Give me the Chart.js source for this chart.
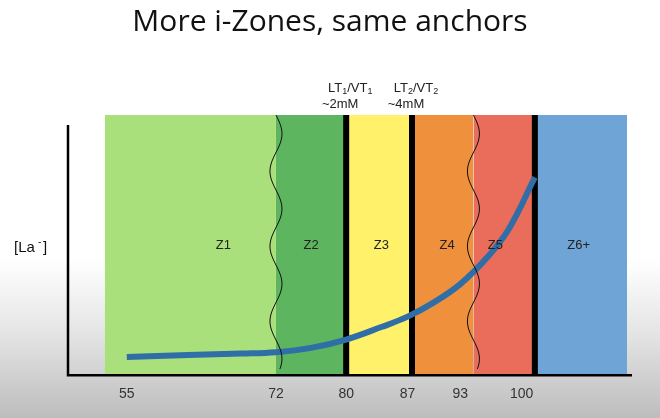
<!DOCTYPE html>
<html><head><meta charset="utf-8">
<script src="https://cdn.jsdelivr.net/npm/chart.js@4/dist/chart.umd.min.js"></script>
<style>
html,body{margin:0;padding:0;}
body{width:660px;height:418px;background:linear-gradient(to bottom,#fff 0%,#fff 62%,#e4e4e4 80%,#bdbdbd 100%);overflow:hidden;}
#wrap{position:relative;width:660px;height:418px;}
</style></head>
<body><div id="wrap"><canvas id="c" width="660" height="418"></canvas></div>
<script>
const title = "More i-Zones, same anchors";
const tickValues = [55, 72, 80, 87, 93, 100];
const zoneEdges = [52.5, 72, 80, 87.5, 94.5, 101.5, 112];
const zoneLabels = ["Z1", "Z2", "Z3", "Z4", "Z5", "Z6+"];
const zoneLabelAt = [66, 76, 84, 91.5, 97, 106.5];
const zoneColors = ["#a9e07b", "#5db560", "#fff16a", "#ef903c", "#ea6c5a", "#6fa4d6"];
const curveX = [55, 62, 68, 72, 76, 80, 84, 87, 90, 93, 96, 98.5, 101.5];
const curveY = [7, 7.8, 8.3, 8.8, 10.5, 13.7, 18.5, 22.5, 28, 35, 45, 56, 76];
const thickLines = [80, 87.5, 101.5];
const wavyLines = [72, 94.5];

const datasets = [];
datasets.push({type:'line', data: curveX.map((x,i)=>({x, y: curveY[i]})), borderColor:'#2f6ea6', borderWidth:6, pointRadius:0, tension:0.4, fill:false, order:0});
zoneLabels.forEach((z,i)=>{
  datasets.push({type:'line', data:[{x:zoneEdges[i],y:100},{x:zoneEdges[i+1],y:100}], borderWidth:0, pointRadius:0, backgroundColor:zoneColors[i], fill:'origin', order:10});
});
thickLines.forEach(v=>{
  datasets.push({type:'line', data:[{x:v,y:0},{x:v,y:100}], borderColor:'#000', borderWidth:6, pointRadius:0, fill:false, order:1});
});

const deco = {
  id:'deco',
  afterDatasetsDraw(chart){
    const ctx = chart.ctx, xs = chart.scales.x, ys = chart.scales.y;
    ctx.save();
    ctx.strokeStyle='#111'; ctx.lineWidth=1;
    wavyLines.forEach(v=>{
      const px = xs.getPixelForValue(v);
      ctx.beginPath();
      for(let py=ys.top; py<=ys.bottom-5; py+=2){
        const dx = 6*Math.sin((py-ys.top)/75*2*Math.PI);
        if(py===ys.top) ctx.moveTo(px+dx,py); else ctx.lineTo(px+dx,py);
      }
      ctx.stroke();
    });
    ctx.fillStyle='#222'; ctx.font='13px "Liberation Sans", Arial'; ctx.textAlign='center'; ctx.textBaseline='middle';
    zoneLabels.forEach((z,i)=>{
      ctx.fillText(z, xs.getPixelForValue(zoneLabelAt[i]), ys.getPixelForValue(50));
    });
    const thr = [[80,'1','~2mM'],[87.5,'2','~4mM']];
    thr.forEach(([v,s,m])=>{
      const px = xs.getPixelForValue(v);
      ctx.font='13px "Liberation Sans", Arial'; ctx.textAlign='left';
      const a='LT', b='/VT';
      const wA=ctx.measureText(a).width, wB=ctx.measureText(b).width;
      ctx.font='9px "Liberation Sans", Arial'; const wS=ctx.measureText(s).width;
      const total=wA+wS+wB+wS; let x0=px-total/2+4; const y=ys.top-27;
      ctx.font='13px "Liberation Sans", Arial'; ctx.fillText(a,x0,y); x0+=wA;
      ctx.font='9px "Liberation Sans", Arial'; ctx.fillText(s,x0,y+4); x0+=wS;
      ctx.font='13px "Liberation Sans", Arial'; ctx.fillText(b,x0,y); x0+=wB;
      ctx.font='9px "Liberation Sans", Arial'; ctx.fillText(s,x0,y+4);
      ctx.font='13px "Liberation Sans", Arial'; ctx.textAlign='center';
      ctx.fillText(m, px-6, ys.top-11);
    });
    ctx.font='30px "Open Sans", "Liberation Sans", Arial'; ctx.textAlign='center'; ctx.fillStyle='#111';
    ctx.fillText(title, 330, 22);
    ctx.font='15px "Liberation Sans", Arial'; ctx.textAlign='left';
    ctx.fillText('[La', 14, 248);
    ctx.font='10px "Liberation Sans", Arial'; ctx.fillText('-', 38, 242);
    ctx.font='15px "Liberation Sans", Arial'; ctx.fillText(']', 43, 248);
    ctx.strokeStyle='#000'; ctx.lineWidth=2.5;
    ctx.beginPath(); ctx.moveTo(xs.left, ys.top+10); ctx.lineTo(xs.left, ys.bottom); ctx.lineTo(xs.right+5, ys.bottom); ctx.stroke();
    ctx.restore();
  }
};

new Chart(document.getElementById('c'), {
  data:{datasets},
  options:{
    responsive:false, animation:false,
    layout:{padding:{left:68, right:33, top:115, bottom:4}},
    plugins:{legend:{display:false}, tooltip:{enabled:false}},
    scales:{
      x:{type:'linear', min:48.3, max:112, grid:{display:false, drawTicks:false}, border:{display:false},
        afterBuildTicks(s){ s.ticks = tickValues.map(v=>({value:v})); },
        ticks:{autoSkip:false, maxRotation:0, padding:11, color:'#333', font:{size:14, family:'"Liberation Sans", Arial'}}},
      y:{type:'linear', min:0, max:100, display:false}
    }
  },
  plugins:[deco]
});
</script></body></html>
